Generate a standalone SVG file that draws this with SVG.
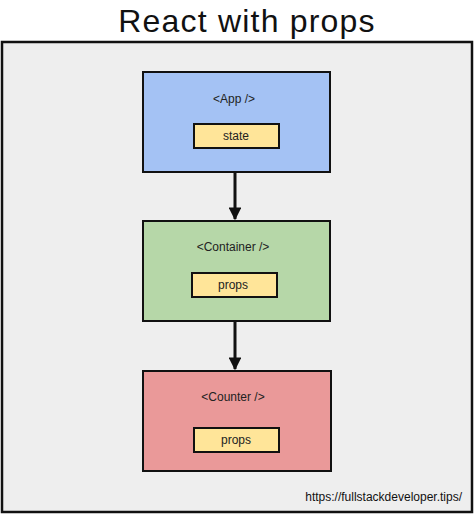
<svg xmlns="http://www.w3.org/2000/svg" width="474" height="514" viewBox="0 0 474 514">
<defs>
<style>
.frame{fill:#eeeeee;stroke:#111;stroke-width:2.5}
.box{stroke:#111;stroke-width:2}
.inner{fill:#ffe599;stroke:#111;stroke-width:2}
.lbl{font-family:"Comic Sans MS","Liberation Sans",sans-serif;font-size:12px;fill:#222;text-anchor:middle}
.conn{stroke:#111;stroke-width:3;fill:none}
</style>
<marker id="ah" viewBox="0 0 10 10" refX="9" refY="5" markerWidth="4.3" markerHeight="4.3" markerUnits="strokeWidth" orient="auto">
<path d="M0,0 L10,5 L0,10 z" fill="#111"/>
</marker>
</defs>
<rect width="474" height="514" fill="#ffffff"/>
<text x="247" y="32" font-family="'Liberation Sans',sans-serif" font-size="32" letter-spacing="1.2" text-anchor="middle" fill="#111">React with props</text>
<rect class="frame" x="2" y="42" width="470" height="470"/>
<g id="connectors">
<line class="conn" x1="235" y1="172" x2="235" y2="219" marker-end="url(#ah)"/>
<line class="conn" x1="235" y1="321" x2="235" y2="369" marker-end="url(#ah)"/>
</g>
<g id="app">
<rect class="box" x="143" y="72" width="187" height="100" fill="#a4c2f4"/>
<text class="lbl" x="234" y="103">&lt;App /&gt;</text>
<rect class="inner" x="194" y="124" width="85" height="24"/>
<text class="lbl" x="236" y="140">state</text>
</g>
<g id="container">
<rect class="box" x="143" y="221" width="187" height="100" fill="#b6d7a8"/>
<text class="lbl" x="233" y="251">&lt;Container /&gt;</text>
<rect class="inner" x="192" y="273" width="85" height="24"/>
<text class="lbl" x="233" y="289">props</text>
</g>
<g id="counter">
<rect class="box" x="143" y="371" width="188" height="100" fill="#ea9999"/>
<text class="lbl" x="233" y="401">&lt;Counter /&gt;</text>
<rect class="inner" x="194" y="428" width="85" height="24"/>
<text class="lbl" x="236" y="444">props</text>
</g>
<text x="462" y="501" font-family="'Liberation Sans',sans-serif" font-size="12" text-anchor="end" fill="#111">https://fullstackdeveloper.tips/</text>
</svg>
